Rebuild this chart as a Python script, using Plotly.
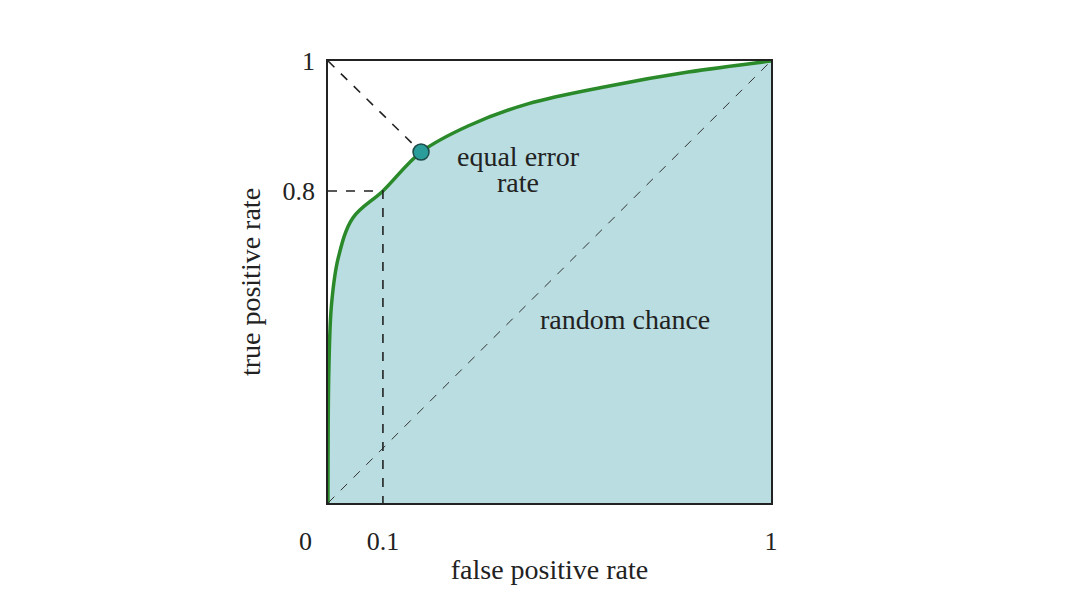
import plotly.graph_objects as go

# ROC curve (schematic axes)
fpr = [0, 0.002, 0.008, 0.023, 0.056, 0.124, 0.21, 0.316, 0.451, 0.632, 0.813, 1.0]
tpr = [0, 0.305, 0.45, 0.554, 0.645, 0.706, 0.794, 0.853, 0.903, 0.943, 0.975, 1.0]
eer_x, eer_y = 0.21, 0.794
op_x, op_y = 0.124, 0.706
xtick_vals = [op_x, 1]
xtick_text = ["0.1", "1"]
ytick_vals = [op_y, 1]
ytick_text = ["0.8", "1"]

serif = "Liberation Serif"

fig = go.Figure()
fig.add_trace(go.Scatter(x=fpr, y=tpr, mode="lines", fill="tozeroy",
                         fillcolor="#b9dde1",
                         line=dict(color="#2a8a2a", width=3.5, shape="spline", smoothing=1.0)))
fig.add_trace(go.Scatter(x=[0, 1], y=[0, 1], mode="lines",
                         line=dict(color="#333", width=1, dash="dash")))
fig.add_trace(go.Scatter(x=[0, eer_x], y=[1, eer_y], mode="lines",
                         line=dict(color="#222", width=1.6, dash="dash")))
fig.add_trace(go.Scatter(x=[0, op_x, op_x], y=[op_y, op_y, 0], mode="lines",
                         line=dict(color="#222", width=1.6, dash="dash")))
fig.add_trace(go.Scatter(x=[eer_x], y=[eer_y], mode="markers",
                         marker=dict(size=16, color="#2a9d9a", line=dict(color="#1d4a48", width=1.5))))

fig.add_annotation(x=0.43, y=0.785, text="equal error", showarrow=False,
                   font=dict(family=serif, size=28, color="#222"))
fig.add_annotation(x=0.43, y=0.725, text="rate", showarrow=False,
                   font=dict(family=serif, size=28, color="#222"))
fig.add_annotation(x=0.67, y=0.415, text="random chance", showarrow=False,
                   font=dict(family=serif, size=28, color="#222"))
fig.add_annotation(x=0, y=0, text="0", showarrow=False, xshift=-23, yshift=-38,
                   font=dict(family=serif, size=26, color="#222"))

fig.update_layout(
    width=1074, height=609, showlegend=False,
    plot_bgcolor="white", paper_bgcolor="white",
    margin=dict(l=320, r=311, t=53, b=114),
    font=dict(family=serif, size=26, color="#222"),
    xaxis=dict(range=[0, 1], tickvals=xtick_vals, ticktext=xtick_text, automargin=False,
               showgrid=False, zeroline=False, showline=True, mirror=True,
               linecolor="#222", linewidth=1.5, ticks="", ticklabelstandoff=14,
               title=dict(text="false positive rate", font=dict(size=28), standoff=4)),
    yaxis=dict(range=[0, 1], tickvals=ytick_vals, ticktext=ytick_text, automargin=False,
               showgrid=False, zeroline=False, showline=True, mirror=True,
               linecolor="#222", linewidth=1.5, ticks="", ticklabelstandoff=6,
               title=dict(text="true positive rate", font=dict(size=28), standoff=14)),
)
fig.write_html("out.html")
